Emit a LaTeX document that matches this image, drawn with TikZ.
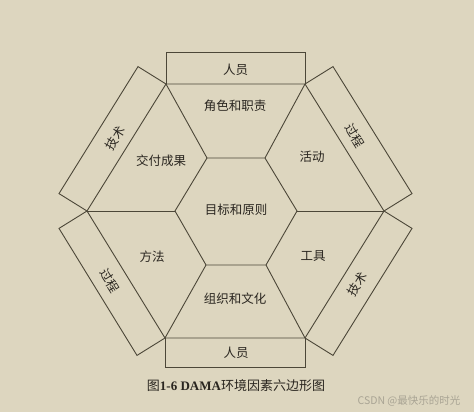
\documentclass[tikz,border=0pt]{standalone}
\usepackage{fontspec}
\setmainfont{Liberation Serif}
\newfontfamily\cjk{Noto Sans CJK SC}
\usetikzlibrary{calc}
\definecolor{bg}{HTML}{DDD6BF}
\definecolor{ln}{HTML}{4C4738}
\definecolor{tx}{HTML}{2A2620}
\definecolor{wm}{HTML}{A9A494}
\tikzset{
  edge/.style={draw=ln, line width=0.9pt, line join=miter},
  lbl/.style={text=tx, font=\cjk\fontsize{12.5}{12.5}\selectfont, inner sep=0pt},
}
\begin{document}
\begin{tikzpicture}[x=1pt,y=-1pt]
\fill[bg] (0,0) rectangle (474,412);
\useasboundingbox (0,0) rectangle (474,412);
% outer hexagon
\coordinate (TL) at (166,84);
\coordinate (TR) at (305,84);
\coordinate (R) at (384,211);
\coordinate (BR) at (305,338);
\coordinate (BL) at (165,338);
\coordinate (L) at (87,211);
% inner hexagon
\coordinate (iTL) at (207,158);
\coordinate (iTR) at (265,158);
\coordinate (iR) at (297,211);
\coordinate (iBR) at (266,265);
\coordinate (iBL) at (206,265);
\coordinate (iL) at (175,211);
% rectangles
\coordinate (pT1) at (166,52);
\coordinate (pT2) at (305,52);
\coordinate (pB1) at (165,367);
\coordinate (pB2) at (305,367);
\coordinate (ul1) at ($(L)+(-28,-17.4)$);
\coordinate (ul2) at ($(TL)+(-28,-17.4)$);
\coordinate (ur1) at ($(TR)+(28,-17.4)$);
\coordinate (ur2) at ($(R)+(28,-17.4)$);
\coordinate (ll1) at ($(L)+(-28,17.4)$);
\coordinate (ll2) at ($(BL)+(-28,17.4)$);
\coordinate (lr1) at ($(R)+(28,17.4)$);
\coordinate (lr2) at ($(BR)+(28,17.4)$);

\draw[edge] (TL) -- (TR) -- (R) -- (BR) -- (BL) -- (L) -- cycle;
\draw[edge] (iTL) -- (iTR) -- (iR) -- (iBR) -- (iBL) -- (iL) -- cycle;
\draw[edge] (iTL) -- (TL);
\draw[edge] (iTR) -- (TR);
\draw[edge] (iR) -- (R);
\draw[edge] (iBR) -- (BR);
\draw[edge] (iBL) -- (BL);
\draw[edge] (iL) -- (L);
\draw[edge] (TL) -- (pT1) -- (pT2) -- (TR);
\draw[edge] (BL) -- (pB1) -- (pB2) -- (BR);
\draw[edge] (L) -- (ul1) -- (ul2) -- (TL);
\draw[edge] (TR) -- (ur1) -- (ur2) -- (R);
\draw[edge] (L) -- (ll1) -- (ll2) -- (BL);
\draw[edge] (R) -- (lr1) -- (lr2) -- (BR);

\node[lbl] (t1) at (235.5,70) {人员};
\node[lbl] (t2) at (235,106) {角色和职责};
\node[lbl] (t3) at (161,161) {交付成果};
\node[lbl] (t4) at (312,157) {活动};
\node[lbl] (t5) at (236,210) {目标和原则};
\node[lbl] (t6) at (152,257) {方法};
\node[lbl] (t7) at (313,256) {工具};
\node[lbl] (t8) at (235,299) {组织和文化};
\node[lbl] (t9) at (236,353) {人员};
\node[lbl, rotate=58] (s1) at (115,138) {技术};
\node[lbl, rotate=-58] (s2) at (355,136) {过程};
\node[lbl, rotate=-58] (s3) at (110,281) {过程};
\node[lbl, rotate=58] (s4) at (357,284) {技术};
\node[text=tx, inner sep=0pt] (cap) at (236,386) {\fontsize{13}{13}\selectfont{\cjk 图}\textbf{1-6 DAMA}{\cjk 环境因素六边形图}};
\node[text=wm, inner sep=0pt, font=\cjk\fontsize{10.5}{11}\selectfont] (wmk) at (409,401) {CSDN @最快乐的时光};
\end{tikzpicture}
\end{document}
